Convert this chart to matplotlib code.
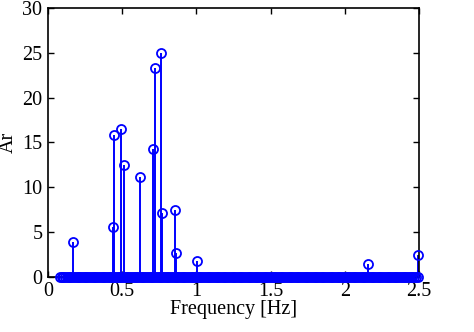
import numpy as np
import matplotlib
matplotlib.use("Agg")
import matplotlib.pyplot as plt

plt.rcParams['font.family'] = ['Liberation Serif', 'DejaVu Serif']
plt.rcParams['mathtext.fontset'] = 'stix'

# Spectral peaks (frequency in Hz, amplitude)
peak_freq = [0.166, 0.440, 0.445, 0.494, 0.512, 0.618, 0.708, 0.721,
             0.759, 0.766, 0.858, 0.862, 1.004, 2.156, 2.496]
peak_amp = [3.85, 5.6, 15.85, 16.55, 12.5, 11.15, 14.25, 23.25,
            25.0, 7.15, 7.45, 2.65, 1.8, 1.4, 2.4]

# Remaining frequency bins with zero amplitude
zero_freq = np.round(np.arange(0.08, 2.501, 0.012), 3)
zero_amp = np.zeros_like(zero_freq)

freq = np.concatenate([zero_freq, peak_freq])
amp = np.concatenate([zero_amp, peak_amp])

x_ticks = [0, 0.5, 1, 1.5, 2, 2.5]
x_ticklabels = ['0', '0.5', '1', '1.5', '2', '2.5']
y_ticks = [0, 5, 10, 15, 20, 25, 30]

fig = plt.figure(figsize=(4.74, 3.32), dpi=100)
ax = fig.add_axes([0.101, 0.166, 0.783, 0.810])

markerline, stemlines, baseline = ax.stem(freq, amp, basefmt=' ')
plt.setp(stemlines, color='#0000ff', linewidth=1.4)
plt.setp(markerline, color='#0000ff', marker='o', markersize=6.5,
         markerfacecolor='none', markeredgewidth=1.3, clip_on=False,
         zorder=3)

ax.set_xlim(0, 2.5)
ax.set_ylim(0, 30)
ax.set_xticks(x_ticks)
ax.set_xticklabels(x_ticklabels)
ax.set_yticks(y_ticks)
ax.tick_params(direction='in', top=True, right=True, length=4, width=1,
               labelsize=14.5)
ax.tick_params(axis='x', pad=4)
ax.tick_params(axis='y', pad=4)
for s in ax.spines.values():
    s.set_linewidth(1.2)

ax.set_xlabel('Frequency [Hz]', fontsize=14.5, labelpad=-1)
ax.set_ylabel('Ar', fontsize=14.5, labelpad=3)

fig.savefig('out.png', dpi=100)
